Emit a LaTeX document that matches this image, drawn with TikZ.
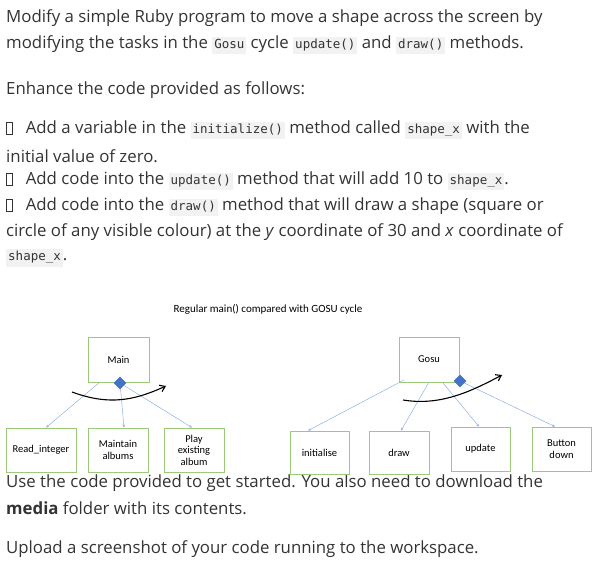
\documentclass[tikz,border=0pt]{standalone}
\usepackage{fontspec}
\setmainfont{Open Sans}
\newfontfamily\dia{Carlito}
\setmonofont{DejaVu Sans Mono}
\usetikzlibrary{shapes.geometric,arrows.meta}
\definecolor{txt}{HTML}{333333}
\definecolor{codebg}{HTML}{F2F2F2}
\definecolor{boxg}{HTML}{9BCB7A}
\definecolor{lineb}{HTML}{8FB0E8}
\definecolor{diab}{HTML}{4472C4}
\newcommand{\cd}[1]{{\setlength{\fboxsep}{2pt}\colorbox{codebg}{\fontsize{12.5}{13}\ttfamily\strut #1}}}
\newcommand{\bx}{\tikz[baseline=0pt]\draw[txt,line width=0.6pt](0,-1pt) rectangle (6pt,11pt);\hspace{13pt}}
\begin{document}
\begin{tikzpicture}[x=1pt,y=-1pt,
  tl/.style={anchor=west,inner sep=0pt,text=txt,font=\fontsize{16.8}{19}\selectfont},
  bb/.style={draw=boxg,line width=0.8pt,font=\dia\fontsize{10.5}{11.5}\selectfont,align=center,inner sep=1pt},
  cn/.style={draw=lineb,line width=0.5pt,-{Stealth[length=3pt,width=2.5pt]}},
  hand/.style={line width=1.1pt,-{Straight Barb[length=5pt,width=7pt]}}]
\useasboundingbox (0,0) rectangle (607,571);
\node[tl] (l1) at (6,18) {Modify a simple Ruby program to move a shape across the screen by};
\node[tl] (l2) at (6,45) {modifying the tasks in the \cd{Gosu} cycle \cd{update()} and \cd{draw()} methods.};
\node[tl] (l3) at (6,90) {Enhance the code provided as follows:};
\node[tl] (l4) at (6,130) {\bx Add a variable in the \cd{initialize()} method called \cd{shape\_x} with the};
\node[tl] (l5) at (6,156) {initial value of zero.};
\node[tl] (l6) at (6,181) {\bx Add code into the \cd{update()} method that will add 10 to \cd{shape\_x}.};
\node[tl] (l7) at (6,207) {\bx Add code into the \cd{draw()} method that will draw a shape (square or};
\node[tl] (l8) at (6,232) {circle of any visible colour) at the \emph{y} coordinate of 30 and \emph{x} coordinate of};
\node[tl] (l9) at (6,258) {\cd{shape\_x}.};
\node[tl] (l10) at (6,483) {Use the code provided to get started. You also need to download the};
\node[tl] (l11) at (6,508) {\textbf{media} folder with its contents.};
\node[tl] (l12) at (6,549) {Upload a screenshot of your code running to the workspace.};
% diagram
\node[font=\dia\fontsize{11}{12}\selectfont] (title) at (268,309) {Regular main() compared with GOSU cycle};
\node[bb,minimum width=61,minimum height=45] (main) at (118.5,359.5) {Main};
\node[bb,minimum width=70,minimum height=44] (ri) at (41,450) {Read\_integer};
\node[bb,minimum width=60,minimum height=44] (ma) at (118,450) {Maintain\\albums};
\node[bb,minimum width=60,minimum height=44] (pe) at (194,450) {Play\\existing\\album};
\node[bb,minimum width=60,minimum height=45] (gosu) at (429,359.5) {Gosu};
\node[bb,minimum width=59,minimum height=43] (in) at (319.5,452.5) {initialise};
\node[bb,minimum width=60,minimum height=43] (dr) at (399,452.5) {draw};
\node[bb,minimum width=59,minimum height=44] (up) at (480.5,449) {update};
\node[bb,minimum width=59,minimum height=44] (bd) at (561.5,449) {Button\\down};
\node[diamond,fill=diab,inner sep=0pt,minimum size=13] (d1) at (120,383) {};
\node[diamond,fill=diab,inner sep=0pt,minimum size=13] (d2) at (460,381) {};
\coordinate (m1) at (100,382);
\coordinate (g1) at (404,380);
\coordinate (g2) at (429,382);
\coordinate (g3) at (443,383);
\draw[cn] (m1) -- (ri.north -| 46,0);
\draw[cn] (d1) -- (ma.north -| 124,0);
\draw[cn] (d1) -- (pe.north -| 192,0);
\draw[cn] (g1) -- (in.north -| 308,0);
\draw[cn] (g2) -- (dr.north -| 401,0);
\draw[cn] (g3) -- (up.north -| 479,0);
\draw[cn] (d2) -- (bd.north -| 555,0);
\coordinate (h1a) at (72,392);
\coordinate (h1b) at (166,386);
\draw[hand] (h1a) .. controls (110,406) and (135,400) .. (h1b);
\coordinate (h2a) at (403,400);
\coordinate (h2b) at (502,375);
\draw[hand] (h2a) .. controls (440,406) and (470,392) .. (h2b);
\end{tikzpicture}
\end{document}
